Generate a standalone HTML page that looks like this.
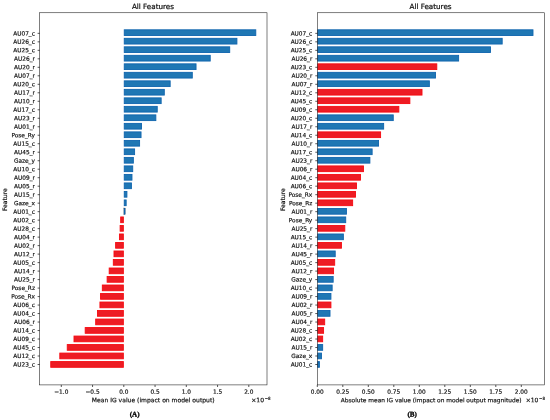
<!DOCTYPE html>
<html lang="en"><head><meta charset="utf-8"><title>All Features</title>
<style>html,body{margin:0;padding:0;background:#fff}svg{display:block}text{text-rendering:geometricPrecision}</style></head>
<body>
<svg width="550" height="420" viewBox="0 0 550 420">
<rect width="550" height="420" fill="#fff"/>
<g font-family="'DejaVu Sans', 'Liberation Sans', sans-serif" font-size="5.8" fill="#141414" stroke="#141414" stroke-width="0.19">
<rect x="124.25" y="29.81" width="131.54" height="5.72" fill="#1f77b4" stroke="#0f64ae" stroke-width="0.9"/>
<rect x="124.25" y="38.32" width="112.66" height="5.72" fill="#1f77b4" stroke="#0f64ae" stroke-width="0.9"/>
<rect x="124.25" y="46.82" width="105.47" height="5.72" fill="#1f77b4" stroke="#0f64ae" stroke-width="0.9"/>
<rect x="124.25" y="55.33" width="85.97" height="5.72" fill="#1f77b4" stroke="#0f64ae" stroke-width="0.9"/>
<rect x="124.25" y="63.84" width="71.79" height="5.72" fill="#1f77b4" stroke="#0f64ae" stroke-width="0.9"/>
<rect x="124.25" y="72.34" width="68.04" height="5.72" fill="#1f77b4" stroke="#0f64ae" stroke-width="0.9"/>
<rect x="124.25" y="80.85" width="45.91" height="5.72" fill="#1f77b4" stroke="#0f64ae" stroke-width="0.9"/>
<rect x="124.25" y="89.36" width="40.04" height="5.72" fill="#1f77b4" stroke="#0f64ae" stroke-width="0.9"/>
<rect x="124.25" y="97.87" width="36.91" height="5.72" fill="#1f77b4" stroke="#0f64ae" stroke-width="0.9"/>
<rect x="124.25" y="106.37" width="32.98" height="5.72" fill="#1f77b4" stroke="#0f64ae" stroke-width="0.9"/>
<rect x="124.25" y="114.88" width="31.60" height="5.72" fill="#1f77b4" stroke="#0f64ae" stroke-width="0.9"/>
<rect x="124.25" y="123.39" width="17.23" height="5.72" fill="#1f77b4" stroke="#0f64ae" stroke-width="0.9"/>
<rect x="124.25" y="131.89" width="16.79" height="5.72" fill="#1f77b4" stroke="#0f64ae" stroke-width="0.9"/>
<rect x="124.25" y="140.40" width="15.35" height="5.72" fill="#1f77b4" stroke="#0f64ae" stroke-width="0.9"/>
<rect x="124.25" y="148.91" width="10.35" height="5.72" fill="#1f77b4" stroke="#0f64ae" stroke-width="0.9"/>
<rect x="124.25" y="157.41" width="9.10" height="5.72" fill="#1f77b4" stroke="#0f64ae" stroke-width="0.9"/>
<rect x="124.25" y="165.92" width="8.47" height="5.72" fill="#1f77b4" stroke="#0f64ae" stroke-width="0.9"/>
<rect x="124.25" y="174.43" width="7.72" height="5.72" fill="#1f77b4" stroke="#0f64ae" stroke-width="0.9"/>
<rect x="124.25" y="182.94" width="7.16" height="5.72" fill="#1f77b4" stroke="#0f64ae" stroke-width="0.9"/>
<rect x="124.25" y="191.44" width="2.66" height="5.72" fill="#1f77b4" stroke="#0f64ae" stroke-width="0.9"/>
<rect x="124.25" y="199.95" width="1.91" height="5.72" fill="#1f77b4" stroke="#0f64ae" stroke-width="0.9"/>
<rect x="123.80" y="208.01" width="1.56" height="6.62" fill="#0f64ae"/>
<rect x="120.69" y="216.96" width="2.66" height="5.72" fill="#ed1c24" stroke="#f60a10" stroke-width="0.9"/>
<rect x="120.12" y="225.47" width="3.23" height="5.72" fill="#ed1c24" stroke="#f60a10" stroke-width="0.9"/>
<rect x="119.44" y="233.98" width="3.91" height="5.72" fill="#ed1c24" stroke="#f60a10" stroke-width="0.9"/>
<rect x="115.62" y="242.48" width="7.72" height="5.72" fill="#ed1c24" stroke="#f60a10" stroke-width="0.9"/>
<rect x="114.00" y="250.99" width="9.35" height="5.72" fill="#ed1c24" stroke="#f60a10" stroke-width="0.9"/>
<rect x="113.31" y="259.50" width="10.04" height="5.72" fill="#ed1c24" stroke="#f60a10" stroke-width="0.9"/>
<rect x="109.19" y="268.01" width="14.16" height="5.72" fill="#ed1c24" stroke="#f60a10" stroke-width="0.9"/>
<rect x="107.12" y="276.51" width="16.23" height="5.72" fill="#ed1c24" stroke="#f60a10" stroke-width="0.9"/>
<rect x="102.31" y="285.02" width="21.04" height="5.72" fill="#ed1c24" stroke="#f60a10" stroke-width="0.9"/>
<rect x="100.56" y="293.53" width="22.79" height="5.72" fill="#ed1c24" stroke="#f60a10" stroke-width="0.9"/>
<rect x="99.94" y="302.03" width="23.41" height="5.72" fill="#ed1c24" stroke="#f60a10" stroke-width="0.9"/>
<rect x="97.50" y="310.54" width="25.85" height="5.72" fill="#ed1c24" stroke="#f60a10" stroke-width="0.9"/>
<rect x="95.69" y="319.05" width="27.66" height="5.72" fill="#ed1c24" stroke="#f60a10" stroke-width="0.9"/>
<rect x="85.19" y="327.56" width="38.16" height="5.72" fill="#ed1c24" stroke="#f60a10" stroke-width="0.9"/>
<rect x="74.00" y="336.06" width="49.35" height="5.72" fill="#ed1c24" stroke="#f60a10" stroke-width="0.9"/>
<rect x="67.25" y="344.57" width="56.10" height="5.72" fill="#ed1c24" stroke="#f60a10" stroke-width="0.9"/>
<rect x="59.81" y="353.08" width="63.54" height="5.72" fill="#ed1c24" stroke="#f60a10" stroke-width="0.9"/>
<rect x="50.75" y="361.58" width="72.60" height="5.72" fill="#ed1c24" stroke="#f60a10" stroke-width="0.9"/>
<rect x="39.7" y="12.75" width="227.30" height="372.15" fill="none" stroke="#222" stroke-width="0.58"/>
<path d="M37.60 33.35H39.7M37.60 41.84H39.7M37.60 50.33H39.7M37.60 58.82H39.7M37.60 67.31H39.7M37.60 75.81H39.7M37.60 84.30H39.7M37.60 92.79H39.7M37.60 101.28H39.7M37.60 109.77H39.7M37.60 118.26H39.7M37.60 126.75H39.7M37.60 135.24H39.7M37.60 143.73H39.7M37.60 152.22H39.7M37.60 160.72H39.7M37.60 169.21H39.7M37.60 177.70H39.7M37.60 186.19H39.7M37.60 194.68H39.7M37.60 203.17H39.7M37.60 211.66H39.7M37.60 220.15H39.7M37.60 228.64H39.7M37.60 237.13H39.7M37.60 245.62H39.7M37.60 254.12H39.7M37.60 262.61H39.7M37.60 271.10H39.7M37.60 279.59H39.7M37.60 288.08H39.7M37.60 296.57H39.7M37.60 305.06H39.7M37.60 313.55H39.7M37.60 322.04H39.7M37.60 330.54H39.7M37.60 339.03H39.7M37.60 347.52H39.7M37.60 356.01H39.7M37.60 364.50H39.7M61.30 384.9v2.1M92.55 384.9v2.1M123.80 384.9v2.1M155.05 384.9v2.1M186.30 384.9v2.1M217.55 384.9v2.1M248.80 384.9v2.1" stroke="#111" stroke-width="0.7" fill="none"/>
<g text-anchor="end">
<text x="34.95" y="35.40" transform="rotate(0.03 34.95 35.40)">AU07_c</text>
<text x="34.95" y="43.89" transform="rotate(0.03 34.95 43.89)">AU26_c</text>
<text x="34.95" y="52.38" transform="rotate(0.03 34.95 52.38)">AU25_c</text>
<text x="34.95" y="60.87" transform="rotate(0.03 34.95 60.87)">AU26_r</text>
<text x="34.95" y="69.36" transform="rotate(0.03 34.95 69.36)">AU20_r</text>
<text x="34.95" y="77.86" transform="rotate(0.03 34.95 77.86)">AU07_r</text>
<text x="34.95" y="86.35" transform="rotate(0.03 34.95 86.35)">AU20_c</text>
<text x="34.95" y="94.84" transform="rotate(0.03 34.95 94.84)">AU17_r</text>
<text x="34.95" y="103.33" transform="rotate(0.03 34.95 103.33)">AU10_r</text>
<text x="34.95" y="111.82" transform="rotate(0.03 34.95 111.82)">AU17_c</text>
<text x="34.95" y="120.31" transform="rotate(0.03 34.95 120.31)">AU23_r</text>
<text x="34.95" y="128.80" transform="rotate(0.03 34.95 128.80)">AU01_r</text>
<text x="34.95" y="137.29" transform="rotate(0.03 34.95 137.29)">Pose_Ry</text>
<text x="34.95" y="145.78" transform="rotate(0.03 34.95 145.78)">AU15_c</text>
<text x="34.95" y="154.27" transform="rotate(0.03 34.95 154.27)">AU45_r</text>
<text x="34.95" y="162.77" transform="rotate(0.03 34.95 162.77)">Gaze_y</text>
<text x="34.95" y="171.26" transform="rotate(0.03 34.95 171.26)">AU10_c</text>
<text x="34.95" y="179.75" transform="rotate(0.03 34.95 179.75)">AU09_r</text>
<text x="34.95" y="188.24" transform="rotate(0.03 34.95 188.24)">AU05_r</text>
<text x="34.95" y="196.73" transform="rotate(0.03 34.95 196.73)">AU15_r</text>
<text x="34.95" y="205.22" transform="rotate(0.03 34.95 205.22)">Gaze_x</text>
<text x="34.95" y="213.71" transform="rotate(0.03 34.95 213.71)">AU01_c</text>
<text x="34.95" y="222.20" transform="rotate(0.03 34.95 222.20)">AU02_c</text>
<text x="34.95" y="230.69" transform="rotate(0.03 34.95 230.69)">AU28_c</text>
<text x="34.95" y="239.18" transform="rotate(0.03 34.95 239.18)">AU04_r</text>
<text x="34.95" y="247.67" transform="rotate(0.03 34.95 247.67)">AU02_r</text>
<text x="34.95" y="256.17" transform="rotate(0.03 34.95 256.17)">AU12_r</text>
<text x="34.95" y="264.66" transform="rotate(0.03 34.95 264.66)">AU05_c</text>
<text x="34.95" y="273.15" transform="rotate(0.03 34.95 273.15)">AU14_r</text>
<text x="34.95" y="281.64" transform="rotate(0.03 34.95 281.64)">AU25_r</text>
<text x="34.95" y="290.13" transform="rotate(0.03 34.95 290.13)">Pose_Rz</text>
<text x="34.95" y="298.62" transform="rotate(0.03 34.95 298.62)">Pose_Rx</text>
<text x="34.95" y="307.11" transform="rotate(0.03 34.95 307.11)">AU06_c</text>
<text x="34.95" y="315.60" transform="rotate(0.03 34.95 315.60)">AU04_c</text>
<text x="34.95" y="324.09" transform="rotate(0.03 34.95 324.09)">AU06_r</text>
<text x="34.95" y="332.59" transform="rotate(0.03 34.95 332.59)">AU14_c</text>
<text x="34.95" y="341.08" transform="rotate(0.03 34.95 341.08)">AU09_c</text>
<text x="34.95" y="349.57" transform="rotate(0.03 34.95 349.57)">AU45_c</text>
<text x="34.95" y="358.06" transform="rotate(0.03 34.95 358.06)">AU12_c</text>
<text x="34.95" y="366.55" transform="rotate(0.03 34.95 366.55)">AU23_c</text>
</g>
<g text-anchor="middle">
<text x="61.30" y="393.7" transform="rotate(0.03 61.30 393.7)">−1.0</text>
<text x="92.55" y="393.7" transform="rotate(0.03 92.55 393.7)">−0.5</text>
<text x="123.80" y="393.7" transform="rotate(0.03 123.80 393.7)">0.0</text>
<text x="155.05" y="393.7" transform="rotate(0.03 155.05 393.7)">0.5</text>
<text x="186.30" y="393.7" transform="rotate(0.03 186.30 393.7)">1.0</text>
<text x="217.55" y="393.7" transform="rotate(0.03 217.55 393.7)">1.5</text>
<text x="248.80" y="393.7" transform="rotate(0.03 248.80 393.7)">2.0</text>
<text x="153.25" y="402.3" font-size="6.05" transform="rotate(0.03 153.25 402.3)">Mean IG value (impact on model output)</text>
<text x="152.95" y="9.1" font-size="7.2" stroke-width="0.24" transform="rotate(0.03 152.95 9.1)">All Features</text>
</g>
<text x="270.60" y="402.3" font-size="6.05" text-anchor="end" transform="rotate(0.03 270.60 402.3)">×10<tspan dx="0.7" dy="-2.6" font-size="4.0">−8</tspan></text>
<text transform="translate(6.90 199.70) rotate(-90)" font-size="6.05" text-anchor="middle">Feature</text>
<rect x="317.75" y="29.81" width="215.24" height="5.72" fill="#1f77b4" stroke="#0f64ae" stroke-width="0.9"/>
<rect x="317.75" y="38.32" width="184.43" height="5.72" fill="#1f77b4" stroke="#0f64ae" stroke-width="0.9"/>
<rect x="317.75" y="46.82" width="172.70" height="5.72" fill="#1f77b4" stroke="#0f64ae" stroke-width="0.9"/>
<rect x="317.75" y="55.33" width="140.88" height="5.72" fill="#1f77b4" stroke="#0f64ae" stroke-width="0.9"/>
<rect x="317.75" y="63.84" width="119.05" height="5.72" fill="#ed1c24" stroke="#f60a10" stroke-width="0.9"/>
<rect x="317.75" y="72.34" width="117.73" height="5.72" fill="#1f77b4" stroke="#0f64ae" stroke-width="0.9"/>
<rect x="317.75" y="80.85" width="111.61" height="5.72" fill="#1f77b4" stroke="#0f64ae" stroke-width="0.9"/>
<rect x="317.75" y="89.36" width="104.26" height="5.72" fill="#ed1c24" stroke="#f60a10" stroke-width="0.9"/>
<rect x="317.75" y="97.87" width="92.12" height="5.72" fill="#ed1c24" stroke="#f60a10" stroke-width="0.9"/>
<rect x="317.75" y="106.37" width="81.11" height="5.72" fill="#ed1c24" stroke="#f60a10" stroke-width="0.9"/>
<rect x="317.75" y="114.88" width="75.50" height="5.72" fill="#1f77b4" stroke="#0f64ae" stroke-width="0.9"/>
<rect x="317.75" y="123.39" width="65.91" height="5.72" fill="#1f77b4" stroke="#0f64ae" stroke-width="0.9"/>
<rect x="317.75" y="131.89" width="62.85" height="5.72" fill="#ed1c24" stroke="#f60a10" stroke-width="0.9"/>
<rect x="317.75" y="140.40" width="60.81" height="5.72" fill="#1f77b4" stroke="#0f64ae" stroke-width="0.9"/>
<rect x="317.75" y="148.91" width="54.38" height="5.72" fill="#1f77b4" stroke="#0f64ae" stroke-width="0.9"/>
<rect x="317.75" y="157.41" width="52.14" height="5.72" fill="#1f77b4" stroke="#0f64ae" stroke-width="0.9"/>
<rect x="317.75" y="165.92" width="45.71" height="5.72" fill="#ed1c24" stroke="#f60a10" stroke-width="0.9"/>
<rect x="317.75" y="174.43" width="42.76" height="5.72" fill="#ed1c24" stroke="#f60a10" stroke-width="0.9"/>
<rect x="317.75" y="182.94" width="38.78" height="5.72" fill="#ed1c24" stroke="#f60a10" stroke-width="0.9"/>
<rect x="317.75" y="191.44" width="37.76" height="5.72" fill="#ed1c24" stroke="#f60a10" stroke-width="0.9"/>
<rect x="317.75" y="199.95" width="34.90" height="5.72" fill="#ed1c24" stroke="#f60a10" stroke-width="0.9"/>
<rect x="317.75" y="208.46" width="28.68" height="5.72" fill="#1f77b4" stroke="#0f64ae" stroke-width="0.9"/>
<rect x="317.75" y="216.96" width="27.97" height="5.72" fill="#1f77b4" stroke="#0f64ae" stroke-width="0.9"/>
<rect x="317.75" y="225.47" width="27.05" height="5.72" fill="#ed1c24" stroke="#f60a10" stroke-width="0.9"/>
<rect x="317.75" y="233.98" width="25.62" height="5.72" fill="#1f77b4" stroke="#0f64ae" stroke-width="0.9"/>
<rect x="317.75" y="242.48" width="23.68" height="5.72" fill="#ed1c24" stroke="#f60a10" stroke-width="0.9"/>
<rect x="317.75" y="250.99" width="17.46" height="5.72" fill="#1f77b4" stroke="#0f64ae" stroke-width="0.9"/>
<rect x="317.75" y="259.50" width="16.95" height="5.72" fill="#ed1c24" stroke="#f60a10" stroke-width="0.9"/>
<rect x="317.75" y="268.01" width="15.83" height="5.72" fill="#ed1c24" stroke="#f60a10" stroke-width="0.9"/>
<rect x="317.75" y="276.51" width="15.42" height="5.72" fill="#1f77b4" stroke="#0f64ae" stroke-width="0.9"/>
<rect x="317.75" y="285.02" width="14.40" height="5.72" fill="#1f77b4" stroke="#0f64ae" stroke-width="0.9"/>
<rect x="317.75" y="293.53" width="13.18" height="5.72" fill="#1f77b4" stroke="#0f64ae" stroke-width="0.9"/>
<rect x="317.75" y="302.03" width="13.18" height="5.72" fill="#ed1c24" stroke="#f60a10" stroke-width="0.9"/>
<rect x="317.75" y="310.54" width="12.26" height="5.72" fill="#1f77b4" stroke="#0f64ae" stroke-width="0.9"/>
<rect x="317.75" y="319.05" width="6.95" height="5.72" fill="#ed1c24" stroke="#f60a10" stroke-width="0.9"/>
<rect x="317.75" y="327.56" width="5.83" height="5.72" fill="#ed1c24" stroke="#f60a10" stroke-width="0.9"/>
<rect x="317.75" y="336.06" width="4.91" height="5.72" fill="#ed1c24" stroke="#f60a10" stroke-width="0.9"/>
<rect x="317.75" y="344.57" width="4.91" height="5.72" fill="#1f77b4" stroke="#0f64ae" stroke-width="0.9"/>
<rect x="317.75" y="353.08" width="3.69" height="5.72" fill="#1f77b4" stroke="#0f64ae" stroke-width="0.9"/>
<rect x="317.75" y="361.58" width="1.65" height="5.72" fill="#1f77b4" stroke="#0f64ae" stroke-width="0.9"/>
<rect x="317.4" y="12.75" width="227.10" height="372.15" fill="none" stroke="#222" stroke-width="0.58"/>
<path d="M315.30 33.35H317.4M315.30 41.84H317.4M315.30 50.33H317.4M315.30 58.82H317.4M315.30 67.31H317.4M315.30 75.81H317.4M315.30 84.30H317.4M315.30 92.79H317.4M315.30 101.28H317.4M315.30 109.77H317.4M315.30 118.26H317.4M315.30 126.75H317.4M315.30 135.24H317.4M315.30 143.73H317.4M315.30 152.22H317.4M315.30 160.72H317.4M315.30 169.21H317.4M315.30 177.70H317.4M315.30 186.19H317.4M315.30 194.68H317.4M315.30 203.17H317.4M315.30 211.66H317.4M315.30 220.15H317.4M315.30 228.64H317.4M315.30 237.13H317.4M315.30 245.62H317.4M315.30 254.12H317.4M315.30 262.61H317.4M315.30 271.10H317.4M315.30 279.59H317.4M315.30 288.08H317.4M315.30 296.57H317.4M315.30 305.06H317.4M315.30 313.55H317.4M315.30 322.04H317.4M315.30 330.54H317.4M315.30 339.03H317.4M315.30 347.52H317.4M315.30 356.01H317.4M315.30 364.50H317.4M317.30 384.9v2.1M342.80 384.9v2.1M368.30 384.9v2.1M393.80 384.9v2.1M419.30 384.9v2.1M444.80 384.9v2.1M470.30 384.9v2.1M495.80 384.9v2.1M521.30 384.9v2.1" stroke="#111" stroke-width="0.7" fill="none"/>
<g text-anchor="end">
<text x="312.30" y="35.40" transform="rotate(0.03 312.30 35.40)">AU07_c</text>
<text x="312.30" y="43.89" transform="rotate(0.03 312.30 43.89)">AU26_c</text>
<text x="312.30" y="52.38" transform="rotate(0.03 312.30 52.38)">AU25_c</text>
<text x="312.30" y="60.87" transform="rotate(0.03 312.30 60.87)">AU26_r</text>
<text x="312.30" y="69.36" transform="rotate(0.03 312.30 69.36)">AU23_c</text>
<text x="312.30" y="77.86" transform="rotate(0.03 312.30 77.86)">AU20_r</text>
<text x="312.30" y="86.35" transform="rotate(0.03 312.30 86.35)">AU07_r</text>
<text x="312.30" y="94.84" transform="rotate(0.03 312.30 94.84)">AU12_c</text>
<text x="312.30" y="103.33" transform="rotate(0.03 312.30 103.33)">AU45_c</text>
<text x="312.30" y="111.82" transform="rotate(0.03 312.30 111.82)">AU09_c</text>
<text x="312.30" y="120.31" transform="rotate(0.03 312.30 120.31)">AU20_c</text>
<text x="312.30" y="128.80" transform="rotate(0.03 312.30 128.80)">AU17_r</text>
<text x="312.30" y="137.29" transform="rotate(0.03 312.30 137.29)">AU14_c</text>
<text x="312.30" y="145.78" transform="rotate(0.03 312.30 145.78)">AU10_r</text>
<text x="312.30" y="154.27" transform="rotate(0.03 312.30 154.27)">AU17_c</text>
<text x="312.30" y="162.77" transform="rotate(0.03 312.30 162.77)">AU23_r</text>
<text x="312.30" y="171.26" transform="rotate(0.03 312.30 171.26)">AU06_r</text>
<text x="312.30" y="179.75" transform="rotate(0.03 312.30 179.75)">AU04_c</text>
<text x="312.30" y="188.24" transform="rotate(0.03 312.30 188.24)">AU06_c</text>
<text x="312.30" y="196.73" transform="rotate(0.03 312.30 196.73)">Pose_Rx</text>
<text x="312.30" y="205.22" transform="rotate(0.03 312.30 205.22)">Pose_Rz</text>
<text x="312.30" y="213.71" transform="rotate(0.03 312.30 213.71)">AU01_r</text>
<text x="312.30" y="222.20" transform="rotate(0.03 312.30 222.20)">Pose_Ry</text>
<text x="312.30" y="230.69" transform="rotate(0.03 312.30 230.69)">AU25_r</text>
<text x="312.30" y="239.18" transform="rotate(0.03 312.30 239.18)">AU15_c</text>
<text x="312.30" y="247.67" transform="rotate(0.03 312.30 247.67)">AU14_r</text>
<text x="312.30" y="256.17" transform="rotate(0.03 312.30 256.17)">AU45_r</text>
<text x="312.30" y="264.66" transform="rotate(0.03 312.30 264.66)">AU05_c</text>
<text x="312.30" y="273.15" transform="rotate(0.03 312.30 273.15)">AU12_r</text>
<text x="312.30" y="281.64" transform="rotate(0.03 312.30 281.64)">Gaze_y</text>
<text x="312.30" y="290.13" transform="rotate(0.03 312.30 290.13)">AU10_c</text>
<text x="312.30" y="298.62" transform="rotate(0.03 312.30 298.62)">AU09_r</text>
<text x="312.30" y="307.11" transform="rotate(0.03 312.30 307.11)">AU02_r</text>
<text x="312.30" y="315.60" transform="rotate(0.03 312.30 315.60)">AU05_r</text>
<text x="312.30" y="324.09" transform="rotate(0.03 312.30 324.09)">AU04_r</text>
<text x="312.30" y="332.59" transform="rotate(0.03 312.30 332.59)">AU28_c</text>
<text x="312.30" y="341.08" transform="rotate(0.03 312.30 341.08)">AU02_c</text>
<text x="312.30" y="349.57" transform="rotate(0.03 312.30 349.57)">AU15_r</text>
<text x="312.30" y="358.06" transform="rotate(0.03 312.30 358.06)">Gaze_x</text>
<text x="312.30" y="366.55" transform="rotate(0.03 312.30 366.55)">AU01_c</text>
</g>
<g text-anchor="middle">
<text x="317.30" y="393.7" transform="rotate(0.03 317.30 393.7)">0.00</text>
<text x="342.80" y="393.7" transform="rotate(0.03 342.80 393.7)">0.25</text>
<text x="368.30" y="393.7" transform="rotate(0.03 368.30 393.7)">0.50</text>
<text x="393.80" y="393.7" transform="rotate(0.03 393.80 393.7)">0.75</text>
<text x="419.30" y="393.7" transform="rotate(0.03 419.30 393.7)">1.00</text>
<text x="444.80" y="393.7" transform="rotate(0.03 444.80 393.7)">1.25</text>
<text x="470.30" y="393.7" transform="rotate(0.03 470.30 393.7)">1.50</text>
<text x="495.80" y="393.7" transform="rotate(0.03 495.80 393.7)">1.75</text>
<text x="521.30" y="393.7" transform="rotate(0.03 521.30 393.7)">2.00</text>
<text x="431.20" y="402.3" font-size="5.86" transform="rotate(0.03 431.20 402.3)">Absolute mean IG value (impact on model output magnitude)</text>
<text x="430.55" y="9.1" font-size="7.2" stroke-width="0.24" transform="rotate(0.03 430.55 9.1)">All Features</text>
</g>
<text x="545.00" y="402.3" font-size="6.05" text-anchor="end" transform="rotate(0.03 545.00 402.3)">×10<tspan dx="0.7" dy="-2.6" font-size="4.0">−8</tspan></text>
<text transform="translate(284.60 199.70) rotate(-90)" font-size="6.05" text-anchor="middle">Feature</text>
</g>
<g font-family="'Liberation Serif', 'DejaVu Serif', serif" font-weight="bold" font-size="7.1" fill="#000" stroke="#000" stroke-width="0.3" text-anchor="middle">
<text x="134.6" y="416.6" transform="rotate(0.03 134.6 416.6)">(A)</text>
<text x="412.2" y="416.6" transform="rotate(0.03 412.2 416.6)">(B)</text>
</g>
</svg>
</body></html>
